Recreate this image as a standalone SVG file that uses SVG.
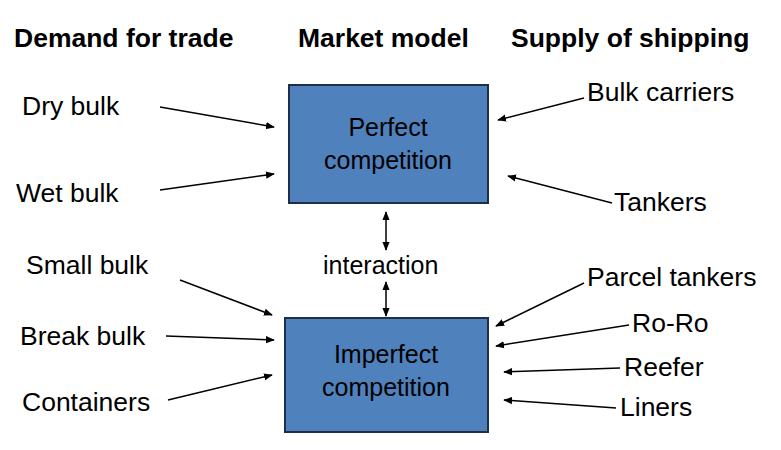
<svg xmlns="http://www.w3.org/2000/svg" width="781" height="450" viewBox="0 0 781 450">
<style>
text{font-family:"Liberation Sans",Arial,sans-serif;fill:#000}
.h{font-size:26.5px;font-weight:bold}
.l{font-size:26.5px}
.b{font-size:25px;text-anchor:middle}
.c{stroke:#000;stroke-width:1.5;fill:none;marker-end:url(#a)}
.box{fill:#4f81bd;stroke:#1f2f4a;stroke-width:2}
</style>
<defs><marker id="a" viewBox="0 0 10 10" refX="9" refY="5" markerWidth="6" markerHeight="6" orient="auto-start-reverse"><path d="M0,1L10,5L0,9z" fill="#000"/></marker></defs>
<rect width="781" height="450" fill="#fff"/>
<text class="h" x="14" y="47">Demand for trade</text>
<text class="h" x="298" y="47">Market model</text>
<text class="h" x="511" y="47">Supply of shipping</text>
<g id="perfect"><rect class="box" x="289" y="85" width="199" height="118"/><text class="b" x="388" y="136">Perfect</text><text class="b" x="388" y="169">competition</text></g>
<g id="imperfect"><rect class="box" x="285" y="318" width="203" height="114"/><text class="b" x="386" y="363">Imperfect</text><text class="b" x="386" y="396">competition</text></g>
<g id="labels">
<text class="l" x="22" y="115">Dry bulk</text>
<text class="l" x="16" y="202">Wet bulk</text>
<text class="l" x="26" y="274">Small bulk</text>
<text class="l" x="20" y="345">Break bulk</text>
<text class="l" x="22" y="411">Containers</text>
<text class="l" x="587" y="101">Bulk carriers</text>
<text class="l" x="614" y="211">Tankers</text>
<text class="l" x="587" y="286">Parcel tankers</text>
<text class="l" x="632" y="332">Ro-Ro</text>
<text class="l" x="624" y="376">Reefer</text>
<text class="l" x="620" y="416">Liners</text>
<text class="l" x="323" y="274" style="font-size:25px">interaction</text>
</g>
<g id="connectors">
<line class="c" x1="160" y1="107" x2="274" y2="127"/>
<line class="c" x1="160" y1="190" x2="274" y2="174"/>
<line class="c" x1="180" y1="280" x2="272" y2="315"/>
<line class="c" x1="166" y1="336" x2="274" y2="340"/>
<line class="c" x1="168" y1="400" x2="272" y2="375"/>
<line class="c" x1="584" y1="98" x2="498" y2="120"/>
<line class="c" x1="612" y1="203" x2="508" y2="176"/>
<line class="c" x1="584" y1="283" x2="496" y2="326"/>
<line class="c" x1="629" y1="325" x2="496" y2="346"/>
<line class="c" x1="620" y1="368" x2="504" y2="372"/>
<line class="c" x1="616" y1="408" x2="504" y2="400"/>
<line class="c" x1="386" y1="250" x2="386" y2="212" style="marker-start:url(#a)"/>
<line class="c" x1="386" y1="282" x2="386" y2="316" style="marker-start:url(#a)"/>
</g>
</svg>
